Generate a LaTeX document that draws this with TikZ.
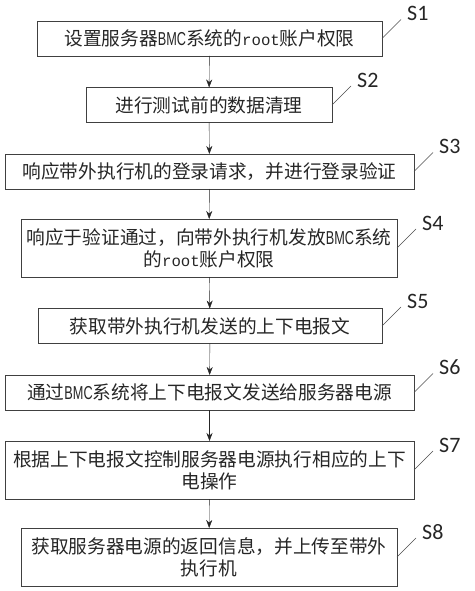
\documentclass[tikz,border=0pt]{standalone}
\usepackage{fontspec}
\setmainfont{Noto Sans CJK SC}
\newfontfamily\labelfont{Carlito}
\newfontfamily\latinfont{Liberation Mono}[Scale=0.84]
\newfontfamily\narrowfont{Liberation Sans}[FakeStretch=0.68]
\usetikzlibrary{positioning,arrows.meta}

\newcommand{\bmc}{{\narrowfont BMC}}
\newcommand{\rootword}{{\latinfont root}}

\begin{document}
\begin{tikzpicture}[font=\fontsize{18.7pt}{22pt}\selectfont,->,>={Stealth[length=8pt,width=6pt]},draw=black!85,text=black!85]
    \tikzstyle{stepbox}=[rectangle,draw=black!75,line width=0.9pt,align=center,inner sep=0pt,outer sep=0pt,minimum height=35pt]
    \tikzstyle{tallbox}=[stepbox,minimum height=58pt]
    \tikzstyle{steplabel}=[font=\labelfont\fontsize{22pt}{22pt}\selectfont,anchor=west,inner sep=0pt]
    \tikzstyle{leader}=[-,line width=0.6pt,draw=black!70]

    \useasboundingbox (0,0) rectangle (474pt,-591pt);

    \node[stepbox,minimum width=345pt] (s1) at (209.5pt,-38.5pt) {设置服务器\bmc 系统的\rootword 账户权限};
    \node[stepbox,minimum width=246pt] (s2) at (209pt,-105pt) {进行测试前的数据清理};
    \node[stepbox,minimum width=409pt] (s3) at (209.5pt,-171.5pt) {响应带外执行机的登录请求，并进行登录验证};
    \node[tallbox,minimum width=376pt] (s4) at (209pt,-248pt) {响应于验证通过，向带外执行机发放\bmc 系统\\的\rootword 账户权限};
    \node[stepbox,minimum width=344pt] (s5) at (210pt,-326pt) {获取带外执行机发送的上下电报文};
    \node[stepbox,minimum width=409pt] (s6) at (209.5pt,-392.5pt) {通过\bmc 系统将上下电报文发送给服务器电源};
    \node[tallbox,minimum width=409pt] (s7) at (209.5pt,-470pt) {根据上下电报文控制服务器电源执行相应的上下\\电操作};
    \node[tallbox,minimum width=376pt] (s8) at (209pt,-557pt) {获取服务器电源的返回信息，并上传至带外\\执行机};

    \draw (s1) -- (s2);
    \draw (s2) -- (s3);
    \draw (s3) -- (s4);
    \draw (s4) -- (s5);
    \draw (s5) -- (s6);
    \draw (s6) -- (s7);
    \draw (s7) -- (s8);

    % step numbers
    \foreach \i in {1,...,8} {
        \draw[leader] (s\i.east) -- ++(19pt,19pt) coordinate (e\i);
        \node[steplabel] (l\i) at ([shift={(6pt,6pt)}]e\i) {S\i};
    }
\end{tikzpicture}
\end{document}
